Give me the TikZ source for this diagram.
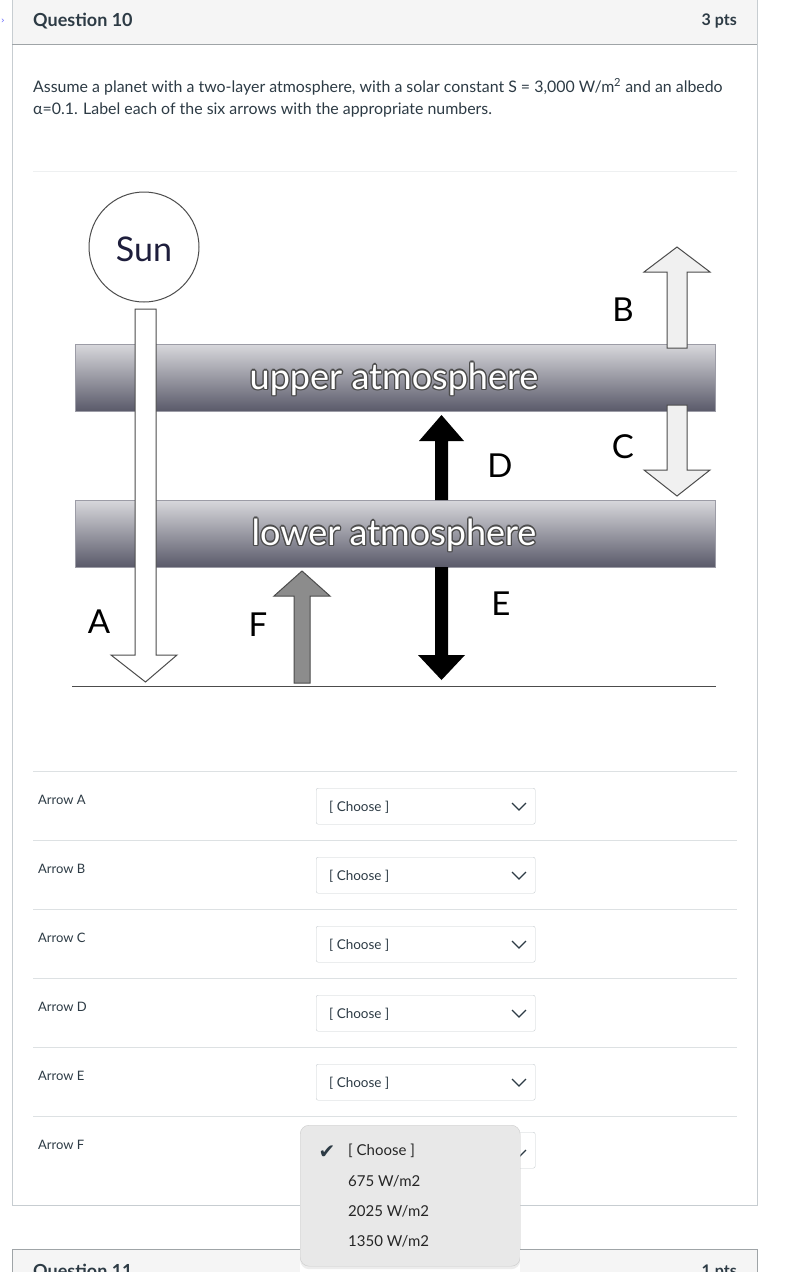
\documentclass[tikz,border=0pt]{standalone}
\usepackage{fontspec}
\setmainfont{Lato}
\newfontfamily\dv{DejaVu Sans}
\usetikzlibrary{shadows}
\definecolor{hdr}{HTML}{F5F5F5}
\definecolor{bord}{HTML}{C7CDD1}
\definecolor{txt}{HTML}{2D3B45}
\definecolor{sunc}{HTML}{1E1E3C}
\definecolor{bartop}{HTML}{D8D8DC}
\definecolor{barbot}{HTML}{5A5A6A}
\tikzset{
  fs/.style={font=\fontsize{#1}{#1}\selectfont},
  rowline/.style={draw=bord!60, line width=0.8pt},
  rowlbl/.style={fs=13, text=txt, anchor=west, inner sep=0pt},
  ddbox/.style={draw=bord, fill=white, rounded corners=2pt, minimum width=219pt, minimum height=36pt, anchor=north west, inner sep=0pt},
  bar/.style={top color=bartop, bottom color=barbot, draw=barbot!60, line width=0.5pt},
  bigl/.style={fs=33, text=black},
  arr/.style={draw=black!70, line width=1pt, line join=miter}
}
\newcommand{\outl}[3]{% x, y, text
  \foreach \dx/\dy in {-1.3/0,1.3/0,0/-1.3,0/1.3,-1/-1,1/1,-1/1,1/-1}{
    \node[fs=36, text=black!70] at (#1+\dx,#2+\dy) {#3};}
  \node[fs=36, text=white] at (#1,#2) {#3};}
\newcommand{\uparr}[7]{% xl xr ybot yshaft ytip headL headR
  \path[#7] (#1,#3) -- (#1,#4) -- (#5,#4) -- ({(#1+#2)/2},#6) -- ({#1+#2-#5},#4) -- (#2,#4) -- (#2,#3) -- cycle;}
\begin{document}
\begin{tikzpicture}[x=1pt,y=-1pt]
\useasboundingbox[fill=white] (0,0) rectangle (802,1272);
% question box
\draw[bord, line width=1pt] (12,-5) rectangle (757,1205);
\fill[hdr] (12.5,0) rectangle (756.5,44);
\draw[bord!80!black, line width=1pt] (12,44) -- (757,44);
\node[fs=9, text=blue!60] (chev) at (3,21) {\dv ›};
\node[text=txt, anchor=west, inner sep=0pt] (q10) at (33,21) {\fontsize{18}{18}\selectfont\bfseries Question 10};
\node[text=txt, anchor=east, inner sep=0pt] (pts) at (737,21) {\fontsize{16}{16}\selectfont\bfseries 3 pts};
\node[fs=15.9, text=txt, anchor=west, inner sep=0pt] (l1) at (33,87) {Assume a planet with a two-layer atmosphere, with a solar constant S = 3,000 W/m\textsuperscript{2} and an albedo};
\node[fs=15.9, text=txt, anchor=west, inner sep=0pt] (l2) at (33,110) {α=0.1. Label each of the six arrows with the appropriate numbers.};
\draw[bord!30, line width=0.8pt] (33,171) -- (737,171);
% diagram
\draw[black!70, line width=1pt] (72,686) -- (716,686);
\node[draw=black!70, line width=1pt, circle, minimum size=110pt, fill=white] (sun) at (144,247) {};
\node[fs=34, text=sunc] (sunl) at (144,249) {Sun};
\fill[bar] (75,344) rectangle (715,411);
\fill[bar] (75,500) rectangle (715,567);
\outl{394}{379}{upper atmosphere}
\outl{394}{535}{lower atmosphere}
% arrow A (down, white)
\path[arr, fill=white] (135,309) -- (135,655) -- (111,655) -- (145.5,682) -- (177,655) -- (156,655) -- (156,309) -- cycle;
% B up light gray
\uparr{667}{687}{348}{272}{644}{247}{arr, fill=black!6}
% C down light gray
\path[arr, fill=black!6] (667,405) -- (667,470) -- (644,470) -- (677,496) -- (710,470) -- (687,470) -- (687,405) -- cycle;
% D up black
\uparr{435}{448}{500}{441}{419}{415}{fill=black}
% E down black
\path[fill=black] (435,567) -- (435,655) -- (418,655) -- (441.5,680) -- (465,655) -- (448,655) -- (448,567) -- cycle;
% F up gray
\uparr{294}{310}{683}{596}{274}{571}{arr, fill=black!45}
\node[bigl] (la) at (99,622) {A};
\node[bigl] (lb) at (623,310) {B};
\node[bigl] (lc) at (623,447) {C};
\node[bigl] (ld) at (500,466) {D};
\node[bigl] (le) at (501,604) {E};
\node[bigl] (lf) at (258,625) {F};
% rows
\foreach \y/\l in {771/A,840/B,909/C,978/D,1047/E,1116/F}{
  \draw[rowline] (33,\y) -- (737,\y);
  \node[rowlbl] (r\l) at (38,\y+29) {Arrow \l};
}
\foreach \y/\l in {771/A,840/B,909/C,978/D,1047/E}{
  \node[ddbox] (dd\l) at (316,\y+17) {};
  \node[fs=13.5, text=txt, anchor=west, inner sep=0pt] (ddt\l) at (329,\y+36) {[ Choose ]};
  \draw[txt, line width=1.3pt] (512,\y+32) -- (519,\y+39) -- (526,\y+32);
}
\node[ddbox] (ddF) at (316,1132) {};
\draw[txt, line width=1.3pt] (519,1157) -- (526,1150);
% popup
\node[draw=black!20, fill=black!9, rounded corners=9pt, minimum width=220pt, minimum height=141pt, anchor=north west, drop shadow={opacity=0.15, shadow xshift=0pt, shadow yshift=-3pt}] (pop) at (300,1125) {};
\node[fs=20, text=txt] (ck) at (327,1152) {\dv ✔};
\node[fs=15, text=black!85, anchor=west, inner sep=0pt] (o0) at (348,1151) {[ Choose ]};
\node[fs=15, text=black!85, anchor=west, inner sep=0pt] (o1) at (348,1181) {675 W/m2};
\node[fs=15, text=black!85, anchor=west, inner sep=0pt] (o2) at (348,1211) {2025 W/m2};
\node[fs=15, text=black!85, anchor=west, inner sep=0pt] (o3) at (348,1241) {1350 W/m2};
% question 11
\begin{scope}
\clip (0,1240) rectangle (802,1272);
\fill[hdr] (12,1249) rectangle (300,1280);
\fill[hdr] (520,1249) rectangle (757,1280);
\draw[bord!80!black, line width=1pt] (12,1290) -- (12,1249) -- (300,1249);
\draw[bord!80!black, line width=1pt] (520,1249) -- (757,1249) -- (757,1290);
\node[text=txt, anchor=west, inner sep=0pt] (q11) at (33,1272) {\fontsize{18}{18}\selectfont\bfseries Question 11};
\node[text=txt, anchor=east, inner sep=0pt] (p11) at (737,1272) {\fontsize{16}{16}\selectfont\bfseries 1 pts};
\end{scope}
\end{tikzpicture}
\end{document}
